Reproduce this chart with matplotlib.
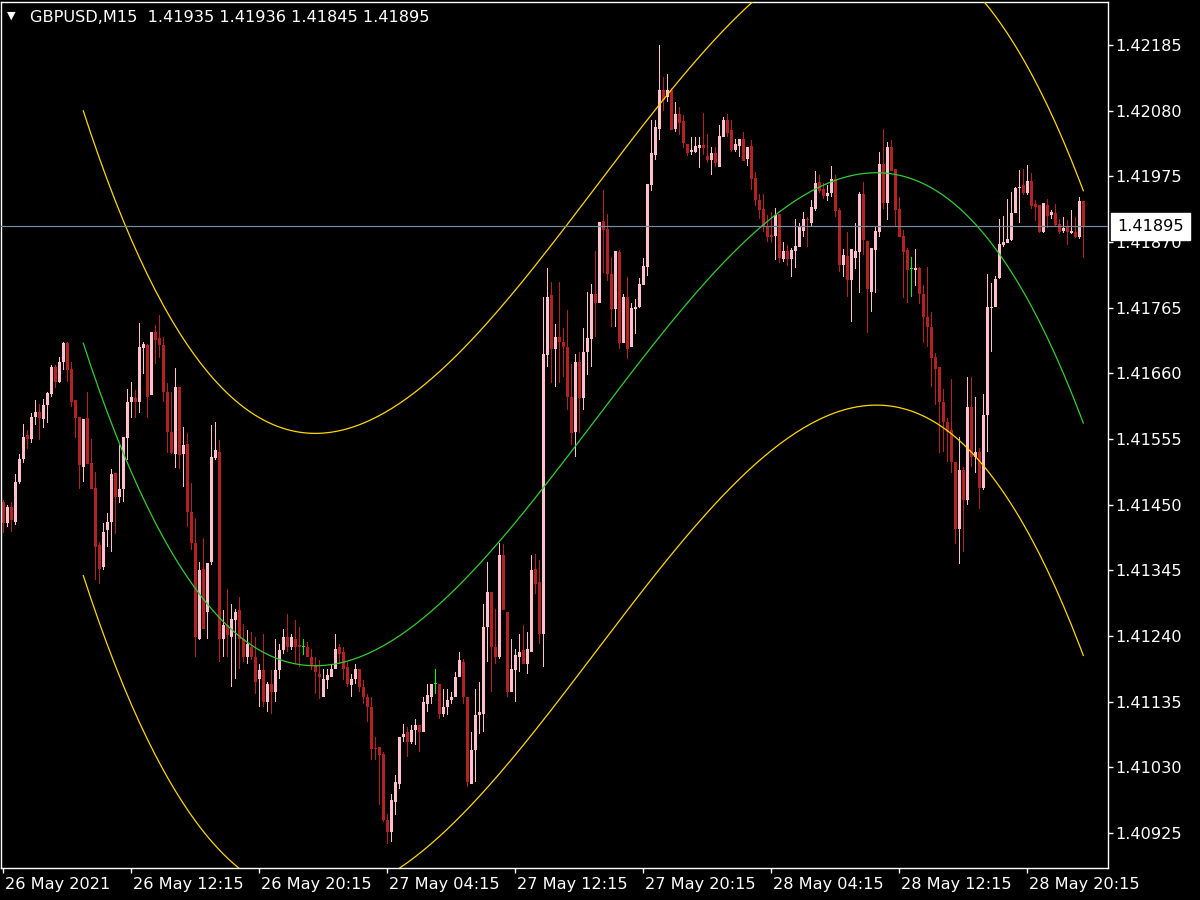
import numpy as np
import matplotlib
matplotlib.use("Agg")
import matplotlib.pyplot as plt
import matplotlib.transforms as mtransforms

symbol = "GBPUSD"
timeframe = "M15"

opens = [
1.41455,1.41420,1.41447,1.41423,1.41486,1.41523,1.41561,1.41555,1.41590,1.41599,
1.41587,1.41609,1.41627,1.41670,1.41647,1.41678,1.41708,1.41667,1.41617,1.41590,
1.41510,1.41588,1.41516,1.41476,1.41385,1.41350,1.41409,1.41423,1.41500,1.41462,
1.41475,1.41556,1.41615,1.41620,1.41615,1.41700,1.41705,1.41625,1.41726,1.41716,
1.41705,1.41631,1.41567,1.41531,1.41638,1.41531,1.41547,1.41439,1.41388,1.41236,
1.41347,1.41278,1.41358,1.41524,1.41535,1.41236,1.41257,1.41238,1.41265,1.41281,
1.41235,1.41207,1.41223,1.41207,1.41171,1.41185,1.41135,1.41164,1.41151,1.41185,
1.41217,1.41238,1.41223,1.41236,1.41225,1.41222,1.41223,1.41206,1.41193,1.41180,
1.41143,1.41169,1.41175,1.41188,1.41222,1.41215,1.41191,1.41161,1.41172,1.41188,
1.41159,1.41143,1.41127,1.41060,1.41062,1.41051,1.40945,1.40926,1.40975,1.41004,
1.41078,1.41086,1.41071,1.41089,1.41097,1.41086,1.41131,1.41143,1.41164,1.41164,
1.41115,1.41126,1.41137,1.41142,1.41174,1.41198,1.41143,1.41004,1.41057,1.41113,
1.41116,1.41255,1.41311,1.41223,1.41206,1.41369,1.41279,1.41151,1.41185,1.41207,
1.41217,1.41195,1.41214,1.41347,1.41327,1.41243,1.41689,1.41785,1.41699,1.41719,
1.41710,1.41702,1.41623,1.41566,1.41678,1.41620,1.41694,1.41715,1.41787,1.41772,
1.41903,1.41891,1.41819,1.41763,1.41854,1.41708,1.41783,1.41702,1.41763,1.41766,
1.41801,1.41830,1.41961,1.42009,1.42051,1.42113,1.42102,1.42113,1.42051,1.42075,
1.42063,1.42027,1.42014,1.42014,1.42020,1.42025,1.42007,1.42001,1.42012,1.41990,
1.42038,1.42065,1.42049,1.42017,1.42023,1.42035,1.42003,1.42023,1.41972,1.41937,
1.41923,1.41895,1.41881,1.41879,1.41915,1.41843,1.41855,1.41843,1.41855,1.41862,
1.41887,1.41907,1.41900,1.41923,1.41966,1.41955,1.41943,1.41948,1.41971,1.41921,
1.41833,1.41847,1.41809,1.41844,1.41854,1.41947,1.41871,1.41790,1.41857,1.41886,
1.41995,1.41932,1.42022,1.41987,1.41923,1.41879,1.41857,1.41827,1.41825,1.41828,
1.41787,1.41751,1.41734,1.41687,1.41670,1.41614,1.41582,1.41569,1.41518,1.41411,
1.41505,1.41457,1.41606,1.41526,1.41534,1.41476,1.41593,1.41764,1.41766,1.41812,
1.41865,1.41868,1.41873,1.41916,1.41956,1.41961,1.41948,1.41967,1.41931,1.41929,
1.41886,1.41929,1.41913,1.41916,1.41899,1.41887,1.41894,1.41884,1.41886,1.41878,
1.41935]

highs = [
1.41457,1.41449,1.41455,1.41499,1.41531,1.41579,1.41569,1.41596,1.41617,1.41611,
1.41619,1.41630,1.41673,1.41673,1.41686,1.41711,1.41711,1.41678,1.41617,1.41590,
1.41587,1.41631,1.41555,1.41503,1.41391,1.41420,1.41436,1.41507,1.41500,1.41545,
1.41559,1.41635,1.41647,1.41633,1.41740,1.41710,1.41707,1.41727,1.41737,1.41753,
1.41719,1.41644,1.41631,1.41668,1.41638,1.41574,1.41564,1.41484,1.41428,1.41358,
1.41396,1.41356,1.41577,1.41582,1.41553,1.41281,1.41315,1.41291,1.41284,1.41303,
1.41259,1.41249,1.41246,1.41238,1.41196,1.41244,1.41167,1.41185,1.41235,1.41228,
1.41252,1.41275,1.41243,1.41265,1.41255,1.41236,1.41231,1.41219,1.41207,1.41201,
1.41187,1.41187,1.41196,1.41244,1.41228,1.41222,1.41198,1.41180,1.41196,1.41188,
1.41169,1.41148,1.41142,1.41078,1.41063,1.41055,1.40956,1.40988,1.41017,1.41078,
1.41100,1.41094,1.41097,1.41107,1.41097,1.41143,1.41163,1.41164,1.41187,1.41164,
1.41156,1.41155,1.41150,1.41183,1.41214,1.41204,1.41143,1.41087,1.41155,1.41167,
1.41291,1.41359,1.41311,1.41284,1.41388,1.41387,1.41279,1.41235,1.41219,1.41244,
1.41257,1.41246,1.41369,1.41371,1.41361,1.41782,1.41828,1.41806,1.41739,1.41806,
1.41732,1.41761,1.41675,1.41691,1.41695,1.41732,1.41790,1.41803,1.41855,1.41902,
1.41953,1.41915,1.41846,1.41855,1.41857,1.41787,1.41814,1.41772,1.41779,1.41812,
1.41844,1.41963,1.42065,1.42065,1.42185,1.42134,1.42139,1.42116,1.42094,1.42086,
1.42073,1.42027,1.42038,1.42038,1.42038,1.42076,1.42043,1.42022,1.42022,1.42057,
1.42070,1.42075,1.42065,1.42035,1.42035,1.42046,1.42022,1.42033,1.41982,1.41947,
1.41947,1.41913,1.41918,1.41924,1.41915,1.41870,1.41865,1.41860,1.41907,1.41900,
1.41918,1.41910,1.41937,1.41983,1.41977,1.41964,1.41961,1.41991,1.41977,1.41924,
1.41859,1.41886,1.41859,1.41900,1.41950,1.41966,1.41871,1.41860,1.41894,1.42014,
1.42051,1.42030,1.42033,1.41987,1.41942,1.41889,1.41860,1.41846,1.41859,1.41830,
1.41801,1.41830,1.41758,1.41692,1.41670,1.41635,1.41588,1.41651,1.41518,1.41559,
1.41510,1.41654,1.41655,1.41622,1.41540,1.41627,1.41819,1.41804,1.41815,1.41907,
1.41911,1.41939,1.41950,1.41958,1.41985,1.41987,1.41993,1.41980,1.41937,1.41929,
1.41932,1.41939,1.41921,1.41931,1.41907,1.41910,1.41905,1.41921,1.41910,1.41942,
1.41936]

lows = [
1.41404,1.41414,1.41406,1.41417,1.41483,1.41516,1.41539,1.41548,1.41577,1.41553,
1.41572,1.41580,1.41623,1.41636,1.41644,1.41665,1.41646,1.41606,1.41556,1.41475,
1.41486,1.41515,1.41475,1.41329,1.41323,1.41345,1.41382,1.41375,1.41403,1.41452,
1.41455,1.41521,1.41588,1.41588,1.41596,1.41659,1.41588,1.41625,1.41675,1.41684,
1.41614,1.41532,1.41531,1.41508,1.41507,1.41478,1.41415,1.41377,1.41206,1.41233,
1.41251,1.41235,1.41353,1.41521,1.41199,1.41206,1.41206,1.41158,1.41172,1.41188,
1.41198,1.41195,1.41201,1.41148,1.41126,1.41127,1.41119,1.41116,1.41134,1.41172,
1.41211,1.41215,1.41217,1.41195,1.41191,1.41209,1.41206,1.41185,1.41148,1.41140,
1.41143,1.41156,1.41174,1.41188,1.41196,1.41169,1.41159,1.41142,1.41164,1.41150,
1.41132,1.41102,1.41041,1.41041,1.40969,1.40943,1.40908,1.40911,1.40953,1.40996,
1.41071,1.41046,1.41068,1.41065,1.41055,1.41086,1.41118,1.41131,1.41148,1.41108,
1.41110,1.41113,1.41131,1.41142,1.41174,1.41131,1.40999,1.41003,1.41006,1.41084,
1.41087,1.41199,1.41151,1.41195,1.41203,1.41281,1.41143,1.41150,1.41134,1.41183,
1.41195,1.41179,1.41214,1.41307,1.41227,1.41191,1.41671,1.41644,1.41638,1.41644,
1.41654,1.41601,1.41545,1.41526,1.41564,1.41601,1.41657,1.41670,1.41719,1.41772,
1.41820,1.41807,1.41734,1.41734,1.41699,1.41708,1.41683,1.41702,1.41723,1.41764,
1.41801,1.41815,1.41951,1.42001,1.42033,1.42079,1.42094,1.42049,1.42046,1.42041,
1.42020,1.42007,1.42009,1.42012,1.41988,1.42009,1.41996,1.41977,1.41990,1.41990,
1.42038,1.42038,1.42014,1.42014,1.42006,1.41999,1.41991,1.41953,1.41927,1.41907,
1.41886,1.41870,1.41868,1.41841,1.41836,1.41838,1.41831,1.41814,1.41828,1.41862,
1.41878,1.41862,1.41894,1.41919,1.41948,1.41939,1.41935,1.41942,1.41910,1.41822,
1.41814,1.41782,1.41743,1.41827,1.41788,1.41849,1.41724,1.41759,1.41788,1.41878,
1.41923,1.41905,1.41983,1.41894,1.41878,1.41780,1.41772,1.41782,1.41799,1.41771,
1.41708,1.41703,1.41638,1.41609,1.41532,1.41534,1.41519,1.41500,1.41387,1.41355,
1.41375,1.41449,1.41510,1.41500,1.41443,1.41473,1.41534,1.41695,1.41766,1.41811,
1.41862,1.41868,1.41871,1.41916,1.41900,1.41945,1.41945,1.41923,1.41903,1.41884,
1.41884,1.41892,1.41907,1.41894,1.41883,1.41884,1.41865,1.41883,1.41876,1.41875,
1.41845]

closes = [
1.41420,1.41447,1.41425,1.41487,1.41523,1.41559,1.41555,1.41591,1.41599,1.41588,
1.41609,1.41628,1.41671,1.41647,1.41678,1.41708,1.41665,1.41614,1.41588,1.41513,
1.41587,1.41515,1.41475,1.41383,1.41347,1.41406,1.41422,1.41499,1.41463,1.41475,
1.41559,1.41615,1.41622,1.41614,1.41702,1.41707,1.41623,1.41726,1.41713,1.41705,
1.41630,1.41566,1.41532,1.41638,1.41529,1.41545,1.41439,1.41388,1.41238,1.41345,
1.41251,1.41356,1.41526,1.41537,1.41235,1.41257,1.41241,1.41267,1.41279,1.41235,
1.41207,1.41227,1.41206,1.41166,1.41185,1.41134,1.41164,1.41151,1.41185,1.41217,
1.41239,1.41223,1.41238,1.41223,1.41223,1.41222,1.41206,1.41193,1.41182,1.41175,
1.41172,1.41177,1.41187,1.41220,1.41212,1.41188,1.41163,1.41172,1.41188,1.41159,
1.41142,1.41126,1.41060,1.41059,1.41049,1.40945,1.40926,1.40977,1.41007,1.41078,
1.41084,1.41071,1.41089,1.41097,1.41086,1.41135,1.41145,1.41164,1.41164,1.41116,
1.41127,1.41137,1.41143,1.41175,1.41201,1.41143,1.41006,1.41057,1.41113,1.41119,
1.41255,1.41311,1.41222,1.41206,1.41369,1.41281,1.41151,1.41188,1.41209,1.41215,
1.41195,1.41219,1.41345,1.41324,1.41243,1.41691,1.41783,1.41699,1.41718,1.41710,
1.41702,1.41622,1.41564,1.41678,1.41620,1.41694,1.41716,1.41787,1.41772,1.41902,
1.41889,1.41819,1.41763,1.41855,1.41708,1.41783,1.41699,1.41764,1.41767,1.41803,
1.41831,1.41963,1.42012,1.42054,1.42113,1.42097,1.42113,1.42049,1.42075,1.42060,
1.42028,1.42012,1.42017,1.42023,1.42025,1.42020,1.42001,1.42012,1.41996,1.42039,
1.42065,1.42044,1.42017,1.42027,1.42035,1.41999,1.42022,1.41971,1.41937,1.41921,
1.41895,1.41878,1.41878,1.41913,1.41844,1.41855,1.41843,1.41857,1.41863,1.41895,
1.41907,1.41905,1.41926,1.41964,1.41951,1.41943,1.41948,1.41971,1.41919,1.41833,
1.41849,1.41809,1.41859,1.41855,1.41947,1.41873,1.41795,1.41860,1.41887,1.41995,
1.41932,1.42022,1.41983,1.41921,1.41878,1.41854,1.41825,1.41827,1.41828,1.41787,
1.41751,1.41734,1.41684,1.41667,1.41614,1.41582,1.41566,1.41518,1.41411,1.41505,
1.41457,1.41606,1.41526,1.41534,1.41476,1.41593,1.41767,1.41767,1.41811,1.41867,
1.41870,1.41875,1.41916,1.41956,1.41958,1.41948,1.41967,1.41927,1.41926,1.41886,
1.41932,1.41911,1.41918,1.41897,1.41886,1.41892,1.41886,1.41887,1.41878,1.41935,
1.41895]

time_tick_bars = [0, 32, 64, 96, 128, 160, 192, 224, 256]
time_tick_labels = ["26 May 2021", "26 May 12:15", "26 May 20:15", "27 May 04:15",
                    "27 May 12:15", "27 May 20:15", "28 May 04:15", "28 May 12:15",
                    "28 May 20:15"]
price_ticks = [1.42185, 1.42080, 1.41975, 1.41870, 1.41765, 1.41660, 1.41555,
               1.41450, 1.41345, 1.41240, 1.41135, 1.41030, 1.40925]

# polynomial regression channel settings
reg_start_bar = 20
reg_degree = 3
reg_k = 2.0

O = np.array(opens); H = np.array(highs); L = np.array(lows); C = np.array(closes)
n = len(C)
x = np.arange(n)

BG = "black"
BULL = "#FFC0CB"
BEAR = "#B22222"
DOJI = "#00FF00"
MID = "#32CD32"
BAND = "#FFD700"
BID = "#778899"
FS = 11.6

fig = plt.figure(figsize=(12, 9), dpi=100, facecolor=BG)
ax = fig.add_axes([1/1200, 32/900, 1107/1200, 866/900], facecolor=BG)

px = 1.59898e-5  # one screen pixel in price units
colors = np.where(C > O, BULL, np.where(C < O, BEAR, DOJI))

# wicks: 1 px wide rectangles (one bar = 4 px)
ax.bar(x, H - L, bottom=L, width=0.25, color=colors, linewidth=0,
       antialiased=False, zorder=2)
# bodies: 3 px wide
body_h = np.maximum(np.abs(C - O), px)
body_b = np.minimum(O, C)
ax.bar(x, body_h, bottom=body_b, width=0.75, color=colors, linewidth=0,
       antialiased=False, zorder=2)

xs = np.arange(reg_start_bar, n)
coef = np.polyfit(xs, C[reg_start_bar:], reg_degree)
mid = np.polyval(coef, xs)
band = reg_k * np.std(C[reg_start_bar:] - mid)
ax.plot(xs, mid, color=MID, linewidth=0.9, zorder=3)
ax.plot(xs, mid + band, color=BAND, linewidth=0.9, zorder=3)
ax.plot(xs, mid - band, color=BAND, linewidth=0.9, zorder=3)

ax.axhline(C[-1], color=BID, linewidth=0.9, zorder=3)

ax.set_xlim(-0.575, 276.175)
ax.set_ylim(1.40869, 1.42254)

for s in ax.spines.values():
    s.set_color("white")
    s.set_linewidth(1)

ax.yaxis.tick_right()
ax.set_yticks(price_ticks)
ax.set_yticklabels([f"{p:.5f}" for p in price_ticks])
ax.set_xticks(time_tick_bars)
ax.set_xticklabels(time_tick_labels, ha="left")
ax.tick_params(axis="both", colors="white", labelcolor="white", labelsize=FS,
               length=3.5, width=1, direction="out")
ax.tick_params(axis="y", pad=2)
ax.tick_params(axis="x", pad=3)
off = mtransforms.ScaledTranslation(2/100, 0, fig.dpi_scale_trans)
for lab in ax.get_xticklabels():
    lab.set_transform(lab.get_transform() + off)

# current price box
tr = mtransforms.blended_transform_factory(ax.transAxes, ax.transData)
tr = tr + mtransforms.ScaledTranslation(9/100, 0, fig.dpi_scale_trans)
ax.text(1.0, C[-1], f"{C[-1]:.5f}", transform=tr, ha="left", va="center",
        color="black", fontsize=FS, clip_on=False, zorder=10,
        bbox=dict(facecolor="white", edgecolor="white",
                  boxstyle="square,pad=0.4"))

fig.text(7/1200, 1 - 16/900, "\u25BC", color="white", fontsize=8,
         ha="left", va="center")
fig.text(30/1200, 1 - 17/900,
         f"{symbol},{timeframe}  {O[-1]:.5f} {H[-1]:.5f} {L[-1]:.5f} {C[-1]:.5f}",
         color="white", fontsize=FS, ha="left", va="center")

fig.savefig("out.png", dpi=100, facecolor=BG)
